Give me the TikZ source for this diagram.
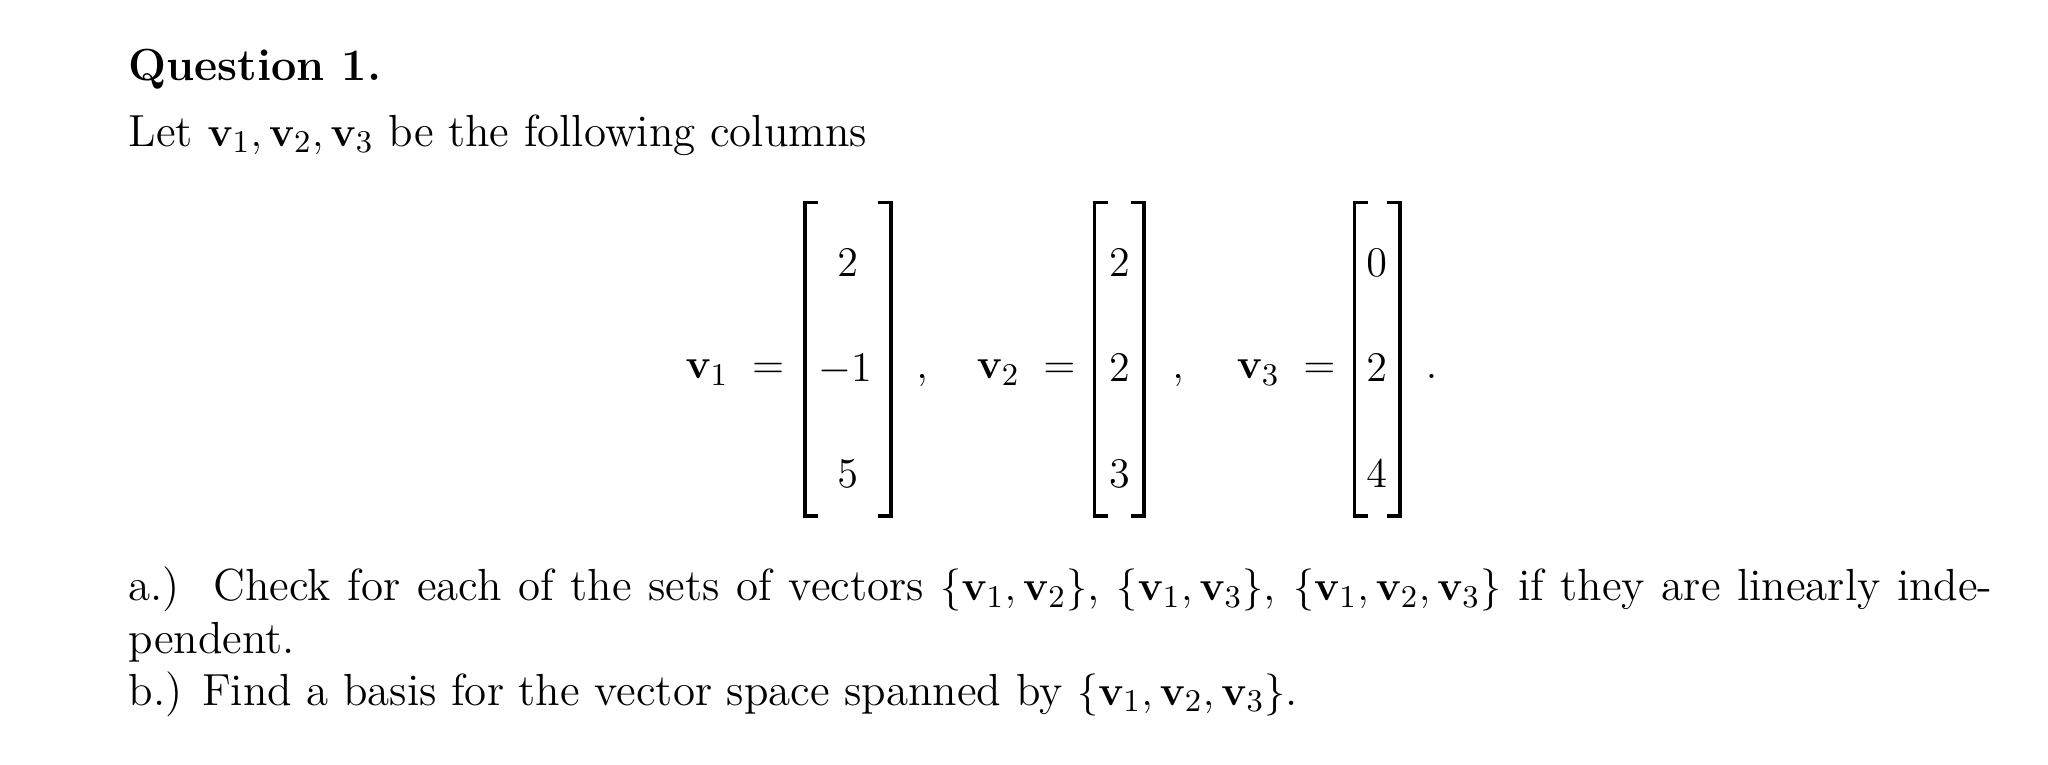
\documentclass[tikz,border=0pt]{standalone}
\usepackage{amsmath}
\begin{document}
\begin{tikzpicture}[x=0.01306cm,y=-0.01306cm,
  txt/.style={anchor=base west,inner sep=0pt,font=\fontsize{12.8}{14.9}\selectfont},
  ent/.style={anchor=base,inner sep=0pt,font=\fontsize{12.8}{14.9}\selectfont},
  br/.style={line width=1.1pt}]
\useasboundingbox (0,0) rectangle (1568,585);
\node[txt] (q) at (98,62) {\bfseries Question 1.};
\node[txt] (l) at (98,112) {Let $\mathbf v_1,\mathbf v_2,\mathbf v_3$ be the following columns};
\node[txt,anchor=base east] (e1) at (601,290) {$\mathbf v_1\;=$};
\node[txt,anchor=base east] (e2) at (824,290) {$\mathbf v_2\;=$};
\node[txt,anchor=base east] (e3) at (1023,290) {$\mathbf v_3\;=$};
\node[ent] (a1) at (649,212) {$2$};
\node[ent] (a2) at (647,292) {$-1$};
\node[ent] (a3) at (649,373) {$5$};
\node[ent] (b1) at (857,212) {$2$};
\node[ent] (b2) at (857,292) {$2$};
\node[ent] (b3) at (857,373) {$3$};
\node[ent] (c1) at (1054,212) {$0$};
\node[ent] (c2) at (1054,292) {$2$};
\node[ent] (c3) at (1054,373) {$4$};
\foreach \l/\r in {616/682,838/876,1037/1072}{
  \draw[br] (\l+10,155) -- (\l,155) -- (\l,395) -- (\l+10,395);
  \draw[br] (\r-10,155) -- (\r,155) -- (\r,395) -- (\r-10,395);}
\node[ent] (k1) at (706,290) {$,$};
\node[ent] (k2) at (902,290) {$,$};
\node[ent] (k3) at (1096,290) {$.$};
\node[txt,anchor=base west,text width=18.64cm,align=justify] (pa) at (98,460)
 {a.)\ \ Check for each of the sets of vectors $\{\mathbf v_1,\mathbf v_2\}$, $\{\mathbf v_1,\mathbf v_3\}$, $\{\mathbf v_1,\mathbf v_2,\mathbf v_3\}$ if they are linearly independent.\par
 \noindent b.) Find a basis for the vector space spanned by $\{\mathbf v_1,\mathbf v_2,\mathbf v_3\}$.};
\end{tikzpicture}
\end{document}
